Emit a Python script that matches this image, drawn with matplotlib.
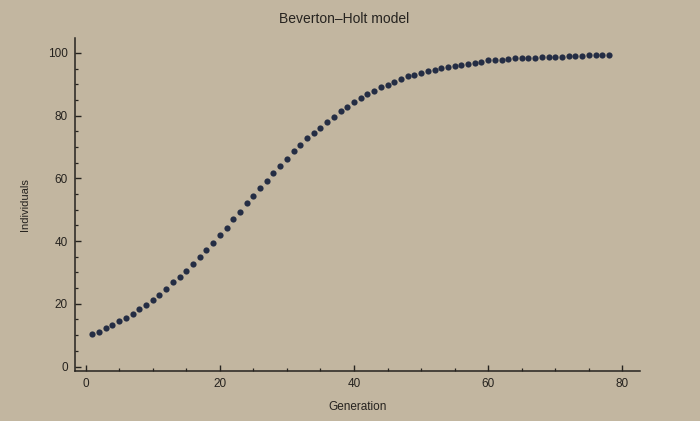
import matplotlib
matplotlib.use("Agg")
import matplotlib.pyplot as plt
from matplotlib.ticker import MultipleLocator

# values
generation = list(range(1, 79))
individuals = [
    10.3, 11.1, 12.3, 13.3, 14.5, 15.6, 16.9, 18.3, 19.7, 21.2,
    22.9, 24.6, 26.9, 28.7, 30.4, 32.8, 34.9, 37.3, 39.5, 42.0,
    44.3, 47.0, 49.4, 52.0, 54.3, 56.9, 59.2, 61.6, 63.9, 66.3,
    68.7, 70.7, 72.9, 74.6, 76.1, 77.9, 79.7, 81.5, 82.9, 84.3,
    85.6, 86.8, 88.0, 89.0, 89.9, 90.8, 91.7, 92.5, 93.0, 93.5,
    94.2, 94.7, 95.2, 95.5, 95.9, 96.2, 96.6, 96.8, 97.2, 97.6,
    97.8, 97.9, 98.1, 98.3, 98.4, 98.5, 98.5, 98.6, 98.7, 98.8,
    98.8, 98.9, 99.0, 99.1, 99.2, 99.3, 99.4, 99.4,
]
x_ticks = [0, 20, 40, 60, 80]
y_ticks = [0, 20, 40, 60, 80, 100]

paper = "#c2b6a0"
ink = "#26231f"
dot = "#242d44"

plt.rcParams["font.family"] = ["Liberation Sans", "DejaVu Sans"]

fig = plt.figure(figsize=(7.0, 4.21), dpi=100, facecolor=paper)
ax = fig.add_axes([0.107, 0.119, 0.807, 0.791])
ax.set_facecolor(paper)

ax.scatter(generation, individuals, s=20, color=dot, linewidths=0, zorder=3)

ax.set_xlim(-1.6, 82.6)
ax.set_ylim(-1.4, 104.8)
ax.set_xticks(x_ticks)
ax.set_yticks(y_ticks)
ax.xaxis.set_minor_locator(MultipleLocator(5))
ax.yaxis.set_minor_locator(MultipleLocator(5))

for side in ["top", "right"]:
    ax.spines[side].set_visible(False)
for side in ["left", "bottom"]:
    ax.spines[side].set_color(ink)
    ax.spines[side].set_linewidth(1.1)

ax.tick_params(which="major", direction="in", length=4, width=1.0,
               color=ink, labelcolor=ink, labelsize=8.5, pad=5)
ax.tick_params(which="minor", direction="in", length=2, width=0.9, color=ink)

ax.set_xlabel("Generation", fontsize=8.5, color=ink, labelpad=8)
ax.set_ylabel("Individuals", fontsize=8, color=ink, labelpad=13)
fig.text(0.491, 0.955, "Beverton\u2013Holt model", ha="center", va="center",
         fontsize=10, color=ink)

fig.savefig("out.png", dpi=100, facecolor=paper)
